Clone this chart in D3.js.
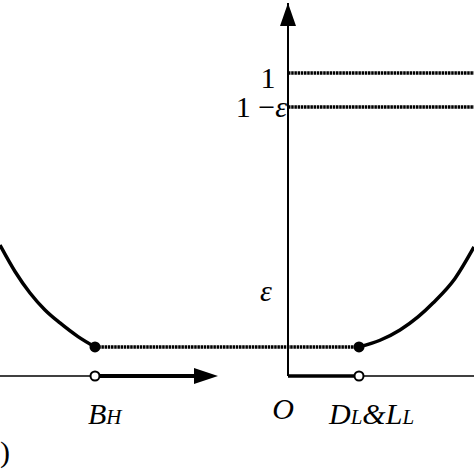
<!DOCTYPE html><html><head><script src="https://cdn.jsdelivr.net/npm/d3@7"></script>
<style>body{margin:0;background:#fff}</style></head><body><svg width="474" height="474"></svg>
<script>
const eps = 0.096;
const levelLines = [1, 0.888];
const leftCurveX = [0, 15, 30, 45, 60, 78, 95];
const leftCurveY = [0.432, 0.345, 0.274, 0.218, 0.175, 0.130, 0.096];
const rightCurveX = [359, 380, 400, 418, 433, 455, 474];
const rightCurveY = [0.096, 0.118, 0.152, 0.195, 0.241, 0.322, 0.426];
const pointX = [95, 359];
const svg = d3.select("svg");
const x = d3.scaleLinear().domain([0, 474]).range([0, 474]);
const y = d3.scaleLinear().domain([0, 1]).range([376, 73]);
const O = 288;
svg.append("line").attr("x1",x(O)).attr("x2",x(O)).attr("y1",y(0)).attr("y2",3).attr("stroke","#000").attr("stroke-width",2);
svg.append("path").attr("d",`M${x(O)-8},26L${x(O)},3L${x(O)+8},26Z`);
svg.append("line").attr("x1",x(O)).attr("x2",474).attr("y1",y(0)).attr("y2",y(0)).attr("stroke","#000").attr("stroke-width",1.5);
svg.append("line").attr("x1",x(O)).attr("x2",x(pointX[1])).attr("y1",y(0)).attr("y2",y(0)).attr("stroke","#000").attr("stroke-width",3.5);
svg.append("line").attr("x1",0).attr("x2",x(pointX[0])).attr("y1",y(0)).attr("y2",y(0)).attr("stroke","#000").attr("stroke-width",1.5);
svg.append("line").attr("x1",x(pointX[0])).attr("x2",195).attr("y1",y(0)).attr("y2",y(0)).attr("stroke","#000").attr("stroke-width",4);
svg.append("path").attr("d",`M194,${y(0)-8}L218,${y(0)}L194,${y(0)+8}Z`);
const dash = l => l.attr("stroke","#000").attr("stroke-width",3.5).attr("stroke-dasharray","2.5,0.7");
levelLines.forEach(v=>dash(svg.append("line").attr("x1",x(O)).attr("x2",474).attr("y1",y(v)).attr("y2",y(v))));
dash(svg.append("line").attr("x1",x(pointX[0])).attr("x2",x(pointX[1])).attr("y1",y(eps)).attr("y2",y(eps)));
const line = d3.line().x(d=>x(d[0])).y(d=>y(d[1])).curve(d3.curveMonotoneX);
svg.append("path").attr("d",line(d3.zip(leftCurveX,leftCurveY))).attr("fill","none").attr("stroke","#000").attr("stroke-width",3.5);
svg.append("path").attr("d",line(d3.zip(rightCurveX,rightCurveY))).attr("fill","none").attr("stroke","#000").attr("stroke-width",3.5);
pointX.forEach(px=>{
 svg.append("circle").attr("cx",x(px)).attr("cy",y(eps)).attr("r",5.5);
 svg.append("circle").attr("cx",x(px)).attr("cy",y(0)).attr("r",4.5).attr("fill","#fff").attr("stroke","#000").attr("stroke-width",2);
});
const f = "Liberation Serif, Times New Roman, serif";
function t(xx,yy,txt,size,anchor,italic){return svg.append("text").attr("x",xx).attr("y",yy).style("font-family",f).style("font-size",size+"px").attr("text-anchor",anchor||"start").style("font-style",italic?"italic":"normal").text(txt);}
t(268,88,"1",30,"middle");
const te = t(287,117,"",30,"end"); te.append("tspan").text("1 −"); te.append("tspan").style("font-style","italic").text("ε");
t(266,301,"ε",30,"middle",true);
t(283,419,"O",30,"middle",true);
const tb = t(88,424,"",30,"start",true); tb.append("tspan").text("B"); tb.append("tspan").style("font-size","21px").text("H");
const td = t(329,424,"",30,"start",true); td.append("tspan").text("D"); td.append("tspan").style("font-size","21px").text("L");
td.append("tspan").text("&"); td.append("tspan").text("L"); td.append("tspan").style("font-size","21px").text("L");
t(0,462,")",30,"start");
</script></body></html>
